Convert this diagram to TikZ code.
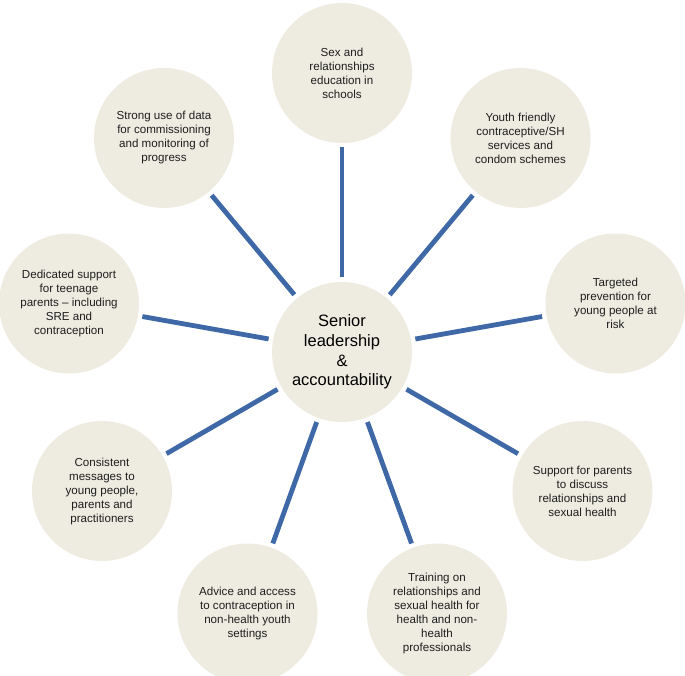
\documentclass[tikz,border=0pt]{standalone}
\usepackage{fontspec}
\setmainfont{Liberation Sans}
\definecolor{circfill}{HTML}{EEECE1}
\definecolor{spokeblue}{HTML}{3F69A6}
\definecolor{txt}{HTML}{1E1E1E}
\begin{document}
\begin{tikzpicture}[x=1pt,y=-1pt,
  outer/.style={circle, fill=circfill, minimum size=140pt, inner sep=0pt, outer sep=0pt,
    align=center, text=txt, font=\fontsize{11.6}{14}\selectfont},
  hub/.style={circle, fill=circfill, minimum size=140pt, inner sep=0pt, outer sep=0pt,
    align=center, text=black, font=\fontsize{16.5}{19.6}\selectfont},
  spoke/.style={draw=spokeblue, line width=4.8pt, shorten <=4.5pt, shorten >=4.5pt}]
\useasboundingbox (0,0) rectangle (685,676);
\node[hub] (c) at (342,352) {Senior\\leadership\\\&\\accountability};
\node[outer] (o1) at (342,73) {Sex and\\relationships\\education in\\schools};
\node[outer] (o2) at (520.5,138) {Youth friendly\\contraceptive/SH\\services and\\condom schemes};
\node[outer] (o3) at (615.5,303.5) {Targeted\\prevention for\\young people at\\risk};
\node[outer] (o4) at (582.5,491) {Support for parents\\to discuss\\relationships and\\sexual health};
\node[outer] (o5) at (437,613.5) {Training on\\relationships and\\sexual health for\\health and non-\\health\\professionals};
\node[outer] (o6) at (247.5,613.5) {Advice and access\\to contraception in\\non-health youth\\settings};
\node[outer] (o7) at (102,491) {Consistent\\messages to\\young people,\\parents and\\practitioners};
\node[outer] (o8) at (69,303.5) {Dedicated support\\for teenage\\parents – including\\SRE and\\contraception};
\node[outer] (o9) at (164,138) {Strong use of data\\for commissioning\\and monitoring of\\progress};
\foreach \i in {1,...,9} {\draw[spoke] (c) -- (o\i);}
\end{tikzpicture}
\end{document}
